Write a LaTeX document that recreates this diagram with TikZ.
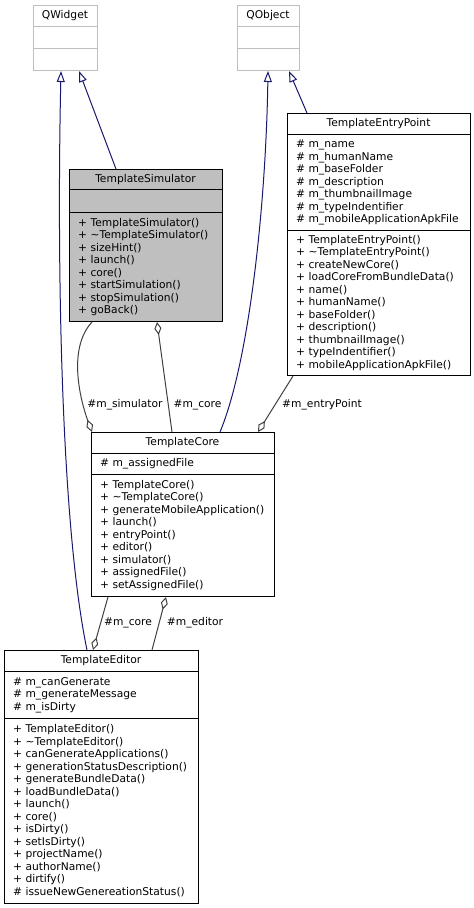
\documentclass[tikz,border=0pt]{standalone}
\usepackage{fontspec}
\setmainfont{DejaVu Sans}
\usetikzlibrary{arrows.meta,calc}
\definecolor{navy}{HTML}{191970}
\definecolor{aggc}{HTML}{404040}
\definecolor{lgray}{HTML}{BFBFBF}
\definecolor{simfill}{HTML}{BFBFBF}
\newcommand\fs{\fontsize{10.7}{12}\selectfont}
\tikzset{
  cls/.style={draw=black, line width=1pt, inner sep=0pt, anchor=north west},
  cls line/.style={draw=black, line width=1pt},
  ext/.style={cls, draw=lgray},
  ext line/.style={draw=lgray, line width=1pt},
  ttl/.style={inner sep=0pt, font=\fs, text height=8pt, text depth=1.5pt},
  mtext/.style={ttl, anchor=west},
  inh/.style={draw=navy, line width=1pt, -{Triangle[open,length=11pt,width=8pt]}},
  agg/.style={draw=aggc, line width=1pt, -{Diamond[open,length=13pt,width=7pt]}},
  lbl/.style={ttl}
}
\newcommand\mlist[4]{%
  \foreach \mitem [count=\mi] in {#4} {\node[mtext] (#1-\mi) at ({#2},{#3+(\mi-1)*12.5}) {\mitem};}}
\begin{document}
\begin{tikzpicture}[x=1pt,y=-1pt]
\useasboundingbox (0,0) rectangle (474,908);

% QWidget
\node[ext, minimum width=64pt, minimum height=65pt] (qw) at (33,5) {};
\draw[ext line] (33,26) -- (97,26) (33,48) -- (97,48);
\node[ttl] (qw-t) at (65,15.5) {QWidget};

% QObject
\node[ext, minimum width=62pt, minimum height=65pt] (qo) at (237,5) {};
\draw[ext line] (237,26) -- (299,26) (237,48) -- (299,48);
\node[ttl] (qo-t) at (268,15.5) {QObject};

% TemplateSimulator
\node[cls, fill=simfill, minimum width=153pt, minimum height=152pt] (ts) at (69,169) {};
\draw[cls line] (69,189) -- (222,189) (69,212) -- (222,212);
\node[ttl] (ts-t) at (145.5,179) {TemplateSimulator};
\mlist{ts-m}{78}{222.75}{+ TemplateSimulator(),+ \textasciitilde TemplateSimulator(),+ sizeHint(),+ launch(),+ core(),+ startSimulation(),+ stopSimulation(),+ goBack()}

% TemplateEntryPoint
\node[cls, minimum width=183pt, minimum height=262pt] (tep) at (287,113) {};
\draw[cls line] (287,134) -- (470,134) (287,230) -- (470,230);
\node[ttl] (tep-t) at (378.5,123.5) {TemplateEntryPoint};
\mlist{tep-a}{296}{144.5}{\# m\_name,\# m\_humanName,\# m\_baseFolder,\# m\_description,\# m\_thumbnailImage,\# m\_typeIndentifier,\# m\_mobileApplicationApkFile}
\mlist{tep-m}{296}{240}{+ TemplateEntryPoint(),+ \textasciitilde TemplateEntryPoint(),+ createNewCore(),+ loadCoreFromBundleData(),+ name(),+ humanName(),+ baseFolder(),+ description(),+ thumbnailImage(),+ typeIndentifier(),+ mobileApplicationApkFile()}

% TemplateCore
\node[cls, minimum width=183pt, minimum height=164pt] (tc) at (91,432) {};
\draw[cls line] (91,453) -- (274,453) (91,474) -- (274,474);
\node[ttl] (tc-t) at (182.5,442.5) {TemplateCore};
\mlist{tc-a}{100}{463.5}{\# m\_assignedFile}
\mlist{tc-m}{100}{485}{+ TemplateCore(),+ \textasciitilde TemplateCore(),+ generateMobileApplication(),+ launch(),+ entryPoint(),+ editor(),+ simulator(),+ assignedFile(),+ setAssignedFile()}

% TemplateEditor
\node[cls, minimum width=194pt, minimum height=253pt] (te) at (4,650) {};
\draw[cls line] (4,671) -- (198,671) (4,718) -- (198,718);
\node[ttl] (te-t) at (101,660.5) {TemplateEditor};
\mlist{te-a}{13}{682}{\# m\_canGenerate,\# m\_generateMessage,\# m\_isDirty}
\mlist{te-m}{13}{729.25}{+ TemplateEditor(),+ \textasciitilde TemplateEditor(),+ canGenerateApplications(),+ generationStatusDescription(),+ generateBundleData(),+ loadBundleData(),+ launch(),+ core(),+ isDirty(),+ setIsDirty(),+ projectName(),+ authorName(),+ dirtify(),\# issueNewGenereationStatus()}

% inheritance
\draw[inh] ($(te.north west)+(83,0)$) .. controls (60,520) and (57,250) .. ($(qw.south west)+(28,0)$);
\draw[inh] ($(ts.north west)+(47,0)$) -- ($(qw.south west)+(46,0)$);
\draw[inh] ($(tc.north west)+(129,0)$) .. controls (250,360) and (266,200) .. ($(qo.south west)+(31,0)$);
\draw[inh] ($(tep.north west)+(20,0)$) -- ($(qo.south west)+(52,0)$);

% aggregation
\draw[agg] ($(ts.south west)+(23,0)$) .. controls (66,350) and (82,405) .. ($(tc.north west)+(1,0)$);
\draw[agg] ($(tc.north west)+(81,0)$) -- ($(ts.south west)+(88,0)$);
\draw[agg] ($(tep.south west)+(6,0)$) -- ($(tc.north west)+(167,0)$);
\draw[agg] ($(tc.south west)+(17,0)$) -- ($(te.north west)+(89,0)$);
\draw[agg] ($(te.north west)+(148,0)$) -- ($(tc.south west)+(75,0)$);

% labels
\node[lbl] (l-sim) at (125,404) {\#m\_simulator};
\node[lbl] (l-core1) at (197.5,404) {\#m\_core};
\node[lbl] (l-ep) at (322,404) {\#m\_entryPoint};
\node[lbl] (l-core2) at (128,622) {\#m\_core};
\node[lbl] (l-ed) at (195,622) {\#m\_editor};
\end{tikzpicture}
\end{document}
